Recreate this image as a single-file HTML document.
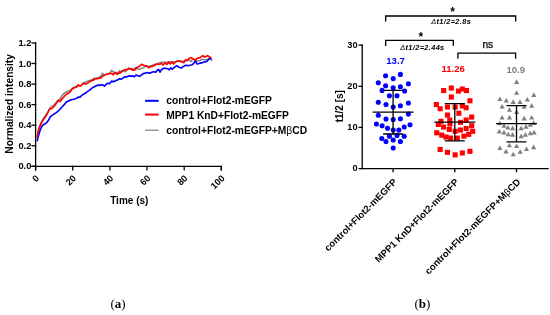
<!DOCTYPE html><html><head><meta charset="utf-8"><style>html,body{margin:0;padding:0;background:#fff;width:550px;height:315px;overflow:hidden}svg{display:block}text{font-family:"Liberation Sans",Arial,sans-serif}</style></head><body>
<svg width="550" height="315" viewBox="0 0 550 315">
<g stroke="#000" stroke-width="1.3" fill="none" stroke-linecap="square">
<path d="M35.6,43.0 V169.8 M32.1,166.3 H221.3 V169.8"/>
<path d="M32.1,166.3 H35.6"/>
<path d="M32.1,145.8 H35.6"/>
<path d="M32.1,125.2 H35.6"/>
<path d="M32.1,104.6 H35.6"/>
<path d="M32.1,84.1 H35.6"/>
<path d="M32.1,63.5 H35.6"/>
<path d="M32.1,43.0 H35.6"/>
<path d="M35.6,166.3 V169.8"/>
<path d="M72.7,166.3 V169.8"/>
<path d="M109.9,166.3 V169.8"/>
<path d="M147.0,166.3 V169.8"/>
<path d="M184.2,166.3 V169.8"/>
<path d="M221.3,166.3 V169.8"/>
</g>
<g font-size="9.3" font-weight="bold" text-anchor="end" fill="#000">
<text x="31.4" y="169.2">0.0</text>
<text x="31.4" y="148.7">0.2</text>
<text x="31.4" y="128.2">0.4</text>
<text x="31.4" y="107.6">0.6</text>
<text x="31.4" y="87.0">0.8</text>
<text x="31.4" y="66.5">1.0</text>
<text x="31.4" y="45.9">1.2</text>
</g>
<g font-size="9.2" font-weight="bold" text-anchor="end" fill="#000">
<text transform="translate(39.6,178.8) rotate(-45)" x="0" y="0">0</text>
<text transform="translate(76.7,178.8) rotate(-45)" x="0" y="0">20</text>
<text transform="translate(113.9,178.8) rotate(-45)" x="0" y="0">40</text>
<text transform="translate(151.0,178.8) rotate(-45)" x="0" y="0">60</text>
<text transform="translate(188.2,178.8) rotate(-45)" x="0" y="0">80</text>
<text transform="translate(225.3,178.8) rotate(-45)" x="0" y="0">100</text>
</g>
<text font-size="10.2" font-weight="bold" transform="translate(12.6,103.9) rotate(-90)" text-anchor="middle">Normalized intensity</text>
<text font-size="10" font-weight="bold" x="110.2" y="203.6">Time (s)</text>
<polyline points="37.1,137.0 38.3,130.0 39.8,125.5 41.8,121.0 44.0,117.5 46.0,114.5 48.0,111.5 50.0,108.0 52.0,106.0 54.0,105.0 56.0,102.5 58.0,100.0 60.0,98.9 61.7,96.1 63.9,93.3 66.1,92.2 68.3,91.1 70.6,90.0 72.2,88.1 75.6,86.7 78.3,85.0 80.6,86.3 82.8,83.0 85.6,81.9 87.8,81.1 90.0,80.3 92.2,79.6 94.4,78.1 96.7,77.8 98.9,77.3 101.1,75.9 102.4,73.1 103.9,74.8 106.7,74.0 109.4,73.1 111.7,70.3 113.3,72.0 115.0,72.2 117.2,73.1 119.4,70.7 121.1,71.8 122.0,70.3 124.0,71.1 125.6,71.9 127.1,69.1 128.7,67.9 130.3,68.7 131.9,68.3 133.9,69.4 135.5,67.5 137.1,67.9 139.0,69.4 141.0,68.7 143.0,67.9 144.6,66.7 146.2,66.3 148.0,66.7 151.3,65.6 154.7,64.4 158.0,63.3 161.3,62.4 164.7,62.2 168.0,62.0 171.3,61.7 174.7,62.0 178.0,61.1 180.0,61.1 183.3,61.1 186.7,60.9 189.4,59.8 191.1,61.8 192.8,58.7 195.6,60.3 197.8,61.1 200.0,60.3 202.2,59.2 203.9,59.8 206.7,59.6 209.4,58.4 211.1,59.8 212.0,60.9" fill="none" stroke="#747474" stroke-width="1.3" stroke-linejoin="round"/>
<polyline points="37.1,141.4 38.1,137.1 39.3,132.9 40.7,128.6 42.4,125.4 44.3,124.3 46.4,122.9 48.6,120.0 50.7,116.4 53.6,114.3 56.4,112.6 59.3,110.0 62.2,106.7 64.4,104.4 66.1,102.2 68.3,101.1 71.1,99.7 73.9,99.2 76.7,98.3 78.3,97.0 80.0,97.2 82.2,95.0 84.4,93.7 86.7,92.2 88.9,90.6 91.1,88.9 93.3,87.2 94.4,86.7 96.7,85.6 98.9,85.1 101.1,85.1 102.8,84.8 104.4,86.2 106.1,84.2 107.8,83.3 109.4,83.7 111.7,81.1 113.3,81.8 115.6,80.7 117.8,79.8 119.4,78.7 121.1,79.2 123.2,77.9 124.8,76.8 126.3,77.1 127.9,76.3 129.5,75.9 131.1,76.3 132.7,75.9 134.3,76.8 135.9,75.1 137.5,75.5 139.4,76.3 141.4,75.1 143.4,73.5 145.4,73.1 147.4,72.5 149.0,73.1 150.2,73.1 152.4,72.0 154.1,71.7 155.8,72.2 157.4,70.0 158.6,69.4 160.0,72.2 161.3,69.8 163.6,68.3 165.8,68.3 167.8,68.7 169.3,69.8 170.8,67.8 172.2,69.1 173.8,67.8 175.6,66.4 176.9,65.6 178.6,67.2 180.8,67.8 181.7,67.8 183.3,66.4 185.6,65.3 187.8,65.6 190.0,65.3 192.2,64.8 193.9,63.1 195.3,60.7 196.7,63.7 197.8,64.0 200.0,63.1 202.2,62.6 204.4,62.0 206.7,61.4 208.3,59.8 209.8,58.1 211.1,58.7 211.7,59.2" fill="none" stroke="#0000ff" stroke-width="1.65" stroke-linejoin="round"/>
<polyline points="37.1,137.9 38.1,132.1 39.6,127.1 41.4,122.9 43.6,119.3 45.7,116.4 47.9,112.6 49.3,109.3 51.4,108.6 53.6,107.1 55.7,104.3 57.1,102.1 58.6,100.7 60.0,101.4 61.7,99.4 63.9,96.7 66.1,94.4 68.3,93.3 70.6,91.4 72.2,88.9 74.4,87.8 76.7,87.0 78.3,84.8 80.0,86.1 81.7,84.8 83.3,83.3 85.6,84.1 87.8,83.0 89.4,81.9 91.7,80.6 93.3,80.3 94.4,79.2 96.7,78.7 98.9,78.4 101.1,77.6 102.8,75.9 105.0,74.8 107.2,74.2 109.4,73.7 111.7,73.3 113.3,74.8 115.0,72.6 117.2,74.4 118.9,72.9 120.0,73.1 121.6,71.9 123.6,70.2 125.2,69.5 127.1,69.9 129.1,68.6 130.7,69.1 132.3,69.9 133.9,70.2 135.5,69.5 136.7,67.5 138.3,66.7 139.8,66.0 141.4,64.4 143.0,64.9 144.6,65.7 146.2,65.7 147.4,66.3 148.7,67.8 150.2,66.7 152.4,66.4 154.7,65.3 156.9,63.9 159.1,64.4 161.3,63.3 163.0,65.0 165.2,62.8 166.9,64.4 168.6,62.2 170.2,63.9 171.9,62.2 173.6,63.9 175.2,62.2 177.4,61.1 179.7,61.1 181.7,61.8 183.9,62.6 185.6,59.8 187.2,60.3 188.9,58.7 191.1,57.6 192.8,58.7 195.0,60.0 197.2,58.4 200.0,57.6 202.8,55.6 204.4,57.0 206.1,56.4 207.8,55.6 209.4,57.0 211.1,57.6" fill="none" stroke="#ff0000" stroke-width="1.65" stroke-linejoin="round"/>
<path d="M145.1,100.8 H158.7" stroke="#0000ff" stroke-width="2"/>
<path d="M145.1,114.6 H158.7" stroke="#ff0000" stroke-width="2"/>
<path d="M145.1,130.2 H158.7" stroke="#808080" stroke-width="1.2"/>
<g font-size="10.25" font-weight="bold" fill="#000">
<text x="166.2" y="104.3">control+Flot2-mEGFP</text>
<text x="166.2" y="118.6">MPP1 KnD+Flot2-mEGFP</text>
<text x="166.2" y="134">control+Flot2-mEGFP+M<tspan font-weight="normal">&#946;</tspan>CD</text>
</g>
<text x="110.5" y="307.6" font-family="Liberation Serif" font-size="13" fill="#000" style="font-family:'Liberation Serif',serif">(<tspan font-weight="bold">a</tspan>)</text>
<text x="414.5" y="307.6" font-size="13" fill="#000" style="font-family:'Liberation Serif',serif">(<tspan font-weight="bold">b</tspan>)</text>
<g stroke="#000" stroke-width="1.3" fill="none" stroke-linecap="square">
<path d="M362.2,45.1 V168.6 H548.1"/>
<path d="M359.2,168.6 H362.2"/>
<path d="M359.2,127.4 H362.2"/>
<path d="M359.2,86.3 H362.2"/>
<path d="M359.2,45.1 H362.2"/>
<path d="M393.1,168.6 V171.6"/>
<path d="M454.8,168.6 V171.6"/>
<path d="M516.5,168.6 V171.6"/>
</g>
<g font-size="9.2" font-weight="bold" text-anchor="end" fill="#000">
<text x="357.6" y="171.2">0</text>
<text x="357.6" y="130.0">10</text>
<text x="357.6" y="88.9">20</text>
<text x="357.6" y="47.7">30</text>
</g>
<text font-size="10" font-weight="bold" transform="translate(342.8,106.2) rotate(-90)" text-anchor="middle">t1/2 [s]</text>
<g font-size="9.5" font-weight="bold" text-anchor="end" fill="#000">
<text transform="translate(397.6,182.6) rotate(-45)">control+Flot2-mEGFP</text>
<text transform="translate(459.3,182.6) rotate(-45)">MPP1 KnD+Flot2-mEGFP</text>
<text transform="translate(521.0,182.6) rotate(-45)">control+Flot2-mEGFP+M<tspan font-weight="normal">&#946;</tspan>CD</text>
</g>
<g fill="#0000ff">
<circle cx="385.6" cy="75.7" r="2.55"/>
<circle cx="393.2" cy="78.6" r="2.55"/>
<circle cx="400.4" cy="74.4" r="2.55"/>
<circle cx="378.3" cy="82.8" r="2.55"/>
<circle cx="408.4" cy="83.7" r="2.55"/>
<circle cx="385.6" cy="85.8" r="2.55"/>
<circle cx="393.2" cy="87.7" r="2.55"/>
<circle cx="400.4" cy="86.8" r="2.55"/>
<circle cx="382.1" cy="90.4" r="2.55"/>
<circle cx="404.6" cy="91.0" r="2.55"/>
<circle cx="389.4" cy="95.7" r="2.55"/>
<circle cx="397" cy="95.7" r="2.55"/>
<circle cx="378.3" cy="102.3" r="2.55"/>
<circle cx="386" cy="104.5" r="2.55"/>
<circle cx="393.2" cy="107" r="2.55"/>
<circle cx="400.4" cy="105.7" r="2.55"/>
<circle cx="408.4" cy="103" r="2.55"/>
<circle cx="378.3" cy="115.2" r="2.55"/>
<circle cx="408.4" cy="114.1" r="2.55"/>
<circle cx="386" cy="119" r="2.55"/>
<circle cx="393.2" cy="119.6" r="2.55"/>
<circle cx="400.4" cy="118.7" r="2.55"/>
<circle cx="376.4" cy="124" r="2.55"/>
<circle cx="382.1" cy="125.7" r="2.55"/>
<circle cx="410" cy="124.8" r="2.55"/>
<circle cx="387.5" cy="128.2" r="2.55"/>
<circle cx="404.2" cy="127" r="2.55"/>
<circle cx="393.2" cy="130.1" r="2.55"/>
<circle cx="398.9" cy="130.1" r="2.55"/>
<circle cx="389.4" cy="136.2" r="2.55"/>
<circle cx="397" cy="135.4" r="2.55"/>
<circle cx="404.2" cy="136.2" r="2.55"/>
<circle cx="381.8" cy="138.5" r="2.55"/>
<circle cx="386" cy="141.5" r="2.55"/>
<circle cx="393.2" cy="140" r="2.55"/>
<circle cx="400.4" cy="141.5" r="2.55"/>
<circle cx="393.2" cy="148" r="2.55"/>
</g>
<g fill="#ff0000">
<rect x="441.1" y="88.0" width="5.1" height="5.1"/>
<rect x="448.8" y="85.5" width="5.1" height="5.1"/>
<rect x="455.9" y="88.5" width="5.1" height="5.1"/>
<rect x="459.8" y="86.5" width="5.1" height="5.1"/>
<rect x="463.9" y="88.0" width="5.1" height="5.1"/>
<rect x="448.8" y="94.5" width="5.1" height="5.1"/>
<rect x="467.4" y="98.2" width="5.1" height="5.1"/>
<rect x="433.8" y="102.0" width="5.1" height="5.1"/>
<rect x="437.6" y="106.2" width="5.1" height="5.1"/>
<rect x="444.9" y="104.5" width="5.1" height="5.1"/>
<rect x="452.6" y="104.5" width="5.1" height="5.1"/>
<rect x="459.8" y="103.4" width="5.1" height="5.1"/>
<rect x="463.6" y="105.2" width="5.1" height="5.1"/>
<rect x="444.9" y="112.5" width="5.1" height="5.1"/>
<rect x="456.3" y="110.7" width="5.1" height="5.1"/>
<rect x="469.1" y="114.5" width="5.1" height="5.1"/>
<rect x="438.4" y="118.8" width="5.1" height="5.1"/>
<rect x="447.2" y="117.5" width="5.1" height="5.1"/>
<rect x="463.6" y="117.5" width="5.1" height="5.1"/>
<rect x="435.8" y="121.9" width="5.1" height="5.1"/>
<rect x="441.1" y="124.5" width="5.1" height="5.1"/>
<rect x="446.8" y="127.0" width="5.1" height="5.1"/>
<rect x="452.6" y="128.8" width="5.1" height="5.1"/>
<rect x="457.8" y="127.5" width="5.1" height="5.1"/>
<rect x="463.6" y="126.0" width="5.1" height="5.1"/>
<rect x="469.1" y="123.2" width="5.1" height="5.1"/>
<rect x="470.1" y="128.8" width="5.1" height="5.1"/>
<rect x="434.2" y="130.2" width="5.1" height="5.1"/>
<rect x="439.2" y="132.6" width="5.1" height="5.1"/>
<rect x="443.4" y="134.5" width="5.1" height="5.1"/>
<rect x="448.1" y="135.5" width="5.1" height="5.1"/>
<rect x="454.8" y="135.5" width="5.1" height="5.1"/>
<rect x="461.4" y="133.6" width="5.1" height="5.1"/>
<rect x="466.2" y="131.8" width="5.1" height="5.1"/>
<rect x="437.6" y="146.9" width="5.1" height="5.1"/>
<rect x="444.9" y="149.8" width="5.1" height="5.1"/>
<rect x="452.6" y="152.3" width="5.1" height="5.1"/>
<rect x="459.8" y="150.4" width="5.1" height="5.1"/>
<rect x="467.4" y="148.8" width="5.1" height="5.1"/>
<rect x="457.9" y="119.8" width="5.1" height="5.1"/>
<rect x="447.4" y="121.5" width="5.1" height="5.1"/>
</g>
<g fill="#808080">
<path d="M516.6,79.3 L519.2,83.9 L514.0,83.9 Z"/>
<path d="M516.6,90.2 L519.2,94.8 L514.0,94.8 Z"/>
<path d="M533.8,92.3 L536.4,96.9 L531.2,96.9 Z"/>
<path d="M499.9,96.4 L502.5,101.0 L497.3,101.0 Z"/>
<path d="M506.3,98.0 L508.9,102.6 L503.7,102.6 Z"/>
<path d="M513.2,99.3 L515.8,103.9 L510.6,103.9 Z"/>
<path d="M520.0,99.3 L522.6,103.9 L517.4,103.9 Z"/>
<path d="M527.3,97.0 L529.9,101.6 L524.7,101.6 Z"/>
<path d="M502.1,103.9 L504.7,108.5 L499.5,108.5 Z"/>
<path d="M524.2,104.1 L526.8,108.7 L521.6,108.7 Z"/>
<path d="M531.7,103.1 L534.3,107.7 L529.1,107.7 Z"/>
<path d="M509.4,107.2 L512.0,111.8 L506.8,111.8 Z"/>
<path d="M516.6,109.3 L519.2,113.9 L514.0,113.9 Z"/>
<path d="M502.1,115.0 L504.7,119.6 L499.5,119.6 Z"/>
<path d="M509.4,115.0 L512.0,119.6 L506.8,119.6 Z"/>
<path d="M524.2,115.8 L526.8,120.4 L521.6,120.4 Z"/>
<path d="M531.7,115.0 L534.3,119.6 L529.1,119.6 Z"/>
<path d="M504.0,123.1 L506.6,127.7 L501.4,127.7 Z"/>
<path d="M507.9,125.0 L510.5,129.6 L505.3,129.6 Z"/>
<path d="M512.6,125.6 L515.2,130.2 L510.0,130.2 Z"/>
<path d="M521.2,125.6 L523.8,130.2 L518.6,130.2 Z"/>
<path d="M526.0,124.1 L528.6,128.7 L523.4,128.7 Z"/>
<path d="M530.3,122.2 L532.9,126.8 L527.7,126.8 Z"/>
<path d="M499.3,128.8 L501.9,133.4 L496.7,133.4 Z"/>
<path d="M504.0,129.8 L506.6,134.4 L501.4,134.4 Z"/>
<path d="M508.2,131.7 L510.8,136.3 L505.6,136.3 Z"/>
<path d="M512.6,132.1 L515.2,136.7 L510.0,136.7 Z"/>
<path d="M521.2,133.6 L523.8,138.2 L518.6,138.2 Z"/>
<path d="M525.4,132.1 L528.0,136.7 L522.8,136.7 Z"/>
<path d="M530.3,130.7 L532.9,135.3 L527.7,135.3 Z"/>
<path d="M534.1,129.8 L536.7,134.4 L531.5,134.4 Z"/>
<path d="M509.4,142.7 L512.0,147.3 L506.8,147.3 Z"/>
<path d="M516.6,143.5 L519.2,148.1 L514.0,148.1 Z"/>
<path d="M499.9,145.4 L502.5,150.0 L497.3,150.0 Z"/>
<path d="M506.0,148.8 L508.6,153.4 L503.4,153.4 Z"/>
<path d="M513.2,151.7 L515.8,156.3 L510.6,156.3 Z"/>
<path d="M520.2,149.2 L522.8,153.8 L517.6,153.8 Z"/>
<path d="M526.5,146.5 L529.1,151.1 L523.9,151.1 Z"/>
<path d="M533.6,144.6 L536.2,149.2 L531.0,149.2 Z"/>
<path d="M499.7,120.7 L502.3,125.3 L497.1,125.3 Z"/>
<path d="M533.6,120.3 L536.2,124.9 L531.0,124.9 Z"/>
</g>
<g stroke="#000" stroke-width="1.3" fill="none">
<path d="M372.6,112.2 H413.6 M383.1,90.4 H403.1 M383.1,134.0 H403.1 M393.1,90.4 V134.0"/>
<path d="M434.3,122.2 H475.3 M444.8,103.7 H464.8 M444.8,140.8 H464.8 M454.8,103.7 V140.8"/>
<path d="M496.0,123.7 H537.0 M506.5,105.6 H526.5 M506.5,141.8 H526.5 M516.5,105.6 V141.8"/>
</g>
<g font-size="9.6" font-weight="bold" text-anchor="middle">
<text x="395.6" y="64.3" fill="#0000ff">13.7</text>
<text x="453.2" y="72.4" fill="#ff0000">11.26</text>
<text x="515.75" y="72.8" fill="#808080">10.9</text>
</g>
<g stroke="#000" stroke-width="1.3" fill="none">
<path d="M385.7,21.4 V16 H515.7 V21.4"/>
<path d="M385.7,46.1 V40.4 H453.3 V46.1"/>
<path d="M457.9,58.8 V53.2 H515.6 V58.8"/>
</g>
<g font-weight="bold" text-anchor="middle" fill="#000">
<text x="452.5" y="15.7" font-size="12">*</text>
<text x="420.9" y="41.4" font-size="12">*</text>
<text x="451.2" y="24" font-size="7.4" font-style="italic" letter-spacing="0.35"><tspan font-weight="normal">&#916;</tspan>t1/2=2.8s</text>
<text x="422.4" y="49.8" font-size="7.4" font-style="italic" letter-spacing="0.35"><tspan font-weight="normal">&#916;</tspan>t1/2=2.44s</text>
</g>
<text x="487.85" y="47.9" font-size="10.2" text-anchor="middle" fill="#000" stroke="#000" stroke-width="0.25">ns</text>
</svg></body></html>
